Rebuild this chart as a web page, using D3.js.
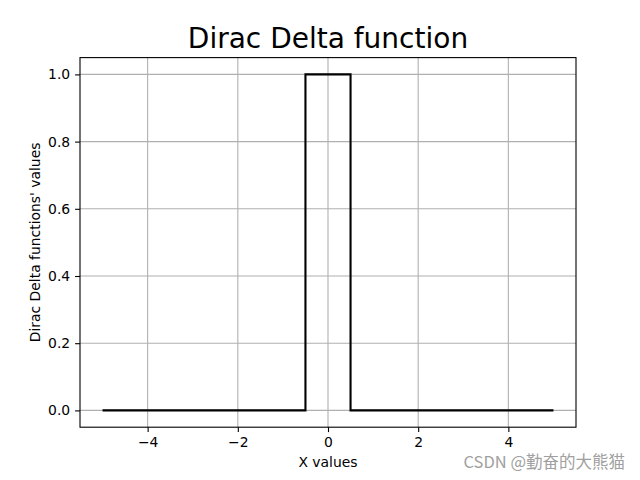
<!DOCTYPE html>
<html><head><meta charset="utf-8">
<script src="https://cdn.jsdelivr.net/npm/d3@7"></script>
<style>body{margin:0;background:#fff;} svg{display:block;}</style>
</head><body>
<svg id="c" width="640" height="480"></svg>
<script>
const xs = [-5, -0.5, -0.5, 0.5, 0.5, 5];
const ys = [0, 0, 1, 1, 0, 0];
const xTicks = [-4, -2, 0, 2, 4];
const yTicks = [0.0, 0.2, 0.4, 0.6, 0.8, 1.0];
const title = "Dirac Delta function";
const xLabel = "X values";
const yLabel = "Dirac Delta functions' values";
const watermark = "CSDN @勤奋的大熊猫";

const svg = d3.select("#c");
const L = 80, R = 576, T = 57.6, B = 427.2;
const x = d3.scaleLinear().domain([-5.5, 5.5]).range([L, R]);
const y = d3.scaleLinear().domain([-0.05, 1.05]).range([B, T]);
const font = "DejaVu Sans, sans-serif";

// grid
svg.append("g").selectAll("line").data(xTicks).join("line")
  .attr("x1", d => x(d)).attr("x2", d => x(d)).attr("y1", T).attr("y2", B)
  .attr("stroke", "#b0b0b0").attr("stroke-width", 1.1);
svg.append("g").selectAll("line").data(yTicks).join("line")
  .attr("y1", d => y(d)).attr("y2", d => y(d)).attr("x1", L).attr("x2", R)
  .attr("stroke", "#b0b0b0").attr("stroke-width", 1.1);

// line
const pts = xs.map((v, i) => [v, ys[i]]);
svg.append("path").datum(pts)
  .attr("d", d3.line().x(d => x(d[0])).y(d => y(d[1])))
  .attr("fill", "none").attr("stroke", "#000").attr("stroke-width", 2.1)
  .attr("stroke-linejoin", "miter");

// axes
const xAxis = d3.axisBottom(x).tickValues(xTicks).tickSize(4.9).tickPadding(4.9)
  .tickFormat(d => d < 0 ? "\u2212" + Math.abs(d) : String(d));
const gx = svg.append("g").attr("transform", `translate(0,${B})`).call(xAxis);
const yAxis = d3.axisLeft(y).tickValues(yTicks).tickSize(4.9).tickPadding(4.9)
  .tickFormat(d3.format(".1f"));
const gy = svg.append("g").attr("transform", `translate(${L},0)`).call(yAxis);
[gx, gy].forEach(g => {
  g.select(".domain").remove();
  g.selectAll("line").attr("stroke", "#000").attr("stroke-width", 1.1);
  g.selectAll("text").attr("font-family", font).attr("font-size", 13.9).attr("fill", "#000");
});

// frame
svg.append("rect").attr("x", L).attr("y", T).attr("width", R - L).attr("height", B - T)
  .attr("fill", "none").attr("stroke", "#000").attr("stroke-width", 1.1);

// labels
svg.append("text").attr("x", (L + R) / 2).attr("y", 48).attr("text-anchor", "middle")
  .attr("font-family", font).attr("font-size", 28).text(title);
svg.append("text").attr("x", (L + R) / 2).attr("y", 467).attr("text-anchor", "middle")
  .attr("font-family", font).attr("font-size", 13.9).text(xLabel);
svg.append("text").attr("transform", `translate(40,${(T + B) / 2}) rotate(-90)`)
  .attr("text-anchor", "middle").attr("font-family", font).attr("font-size", 13.9).text(yLabel);

svg.append("text").attr("x", 625).attr("y", 468).attr("text-anchor", "end")
  .style("font-family", "'Noto Sans CJK SC', 'Noto Sans', sans-serif").attr("font-size", 16.5)
  .attr("fill", "#a0a0a0").text(watermark);
</script>
</body></html>
